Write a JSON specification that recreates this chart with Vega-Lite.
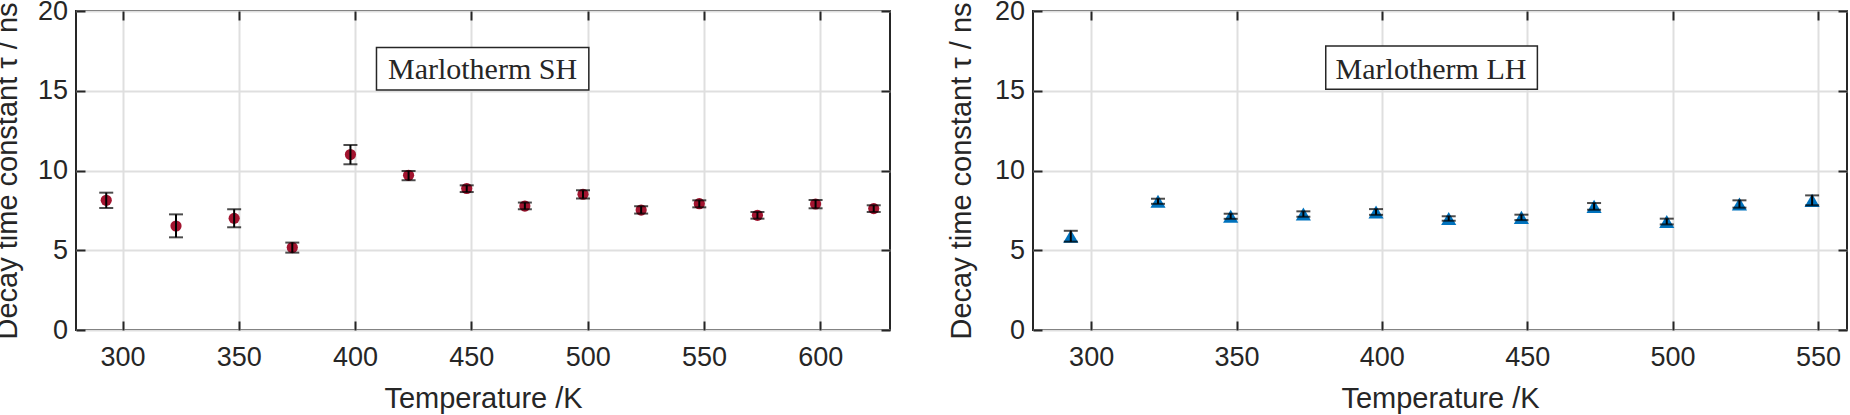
{
  "$schema": "https://vega.github.io/schema/vega-lite/v6.json",
  "padding": {"left": -8, "top": -4, "right": 0, "bottom": 0},
  "spacing": 54,
  "datasets": {
    "sh": [
      {"T": 293, "tau": 8.13, "lo": 7.65, "hi": 8.61},
      {"T": 323, "tau": 6.52, "lo": 5.81, "hi": 7.25},
      {"T": 348, "tau": 7.0, "lo": 6.44, "hi": 7.57},
      {"T": 373, "tau": 5.17, "lo": 4.85, "hi": 5.48},
      {"T": 398, "tau": 11.0, "lo": 10.39, "hi": 11.6},
      {"T": 423, "tau": 9.7, "lo": 9.39, "hi": 9.97},
      {"T": 448, "tau": 8.87, "lo": 8.65, "hi": 9.07},
      {"T": 473, "tau": 7.77, "lo": 7.57, "hi": 7.99},
      {"T": 498, "tau": 8.51, "lo": 8.24, "hi": 8.76},
      {"T": 523, "tau": 7.52, "lo": 7.3, "hi": 7.76},
      {"T": 548, "tau": 7.92, "lo": 7.69, "hi": 8.13},
      {"T": 573, "tau": 7.19, "lo": 6.98, "hi": 7.4},
      {"T": 598, "tau": 7.9, "lo": 7.63, "hi": 8.15},
      {"T": 623, "tau": 7.61, "lo": 7.4, "hi": 7.82}
    ],
    "lh": [
      {"T": 293, "tau": 5.88, "lo": 5.54, "hi": 6.22},
      {"T": 323, "tau": 8.07, "lo": 7.91, "hi": 8.23},
      {"T": 348, "tau": 7.13, "lo": 6.97, "hi": 7.29},
      {"T": 373, "tau": 7.27, "lo": 7.1, "hi": 7.44},
      {"T": 398, "tau": 7.4, "lo": 7.22, "hi": 7.58},
      {"T": 423, "tau": 6.99, "lo": 6.85, "hi": 7.13},
      {"T": 448, "tau": 7.06, "lo": 6.89, "hi": 7.23},
      {"T": 473, "tau": 7.75, "lo": 7.54, "hi": 7.96},
      {"T": 498, "tau": 6.8, "lo": 6.62, "hi": 6.98},
      {"T": 523, "tau": 7.9, "lo": 7.67, "hi": 8.13},
      {"T": 548, "tau": 8.13, "lo": 7.82, "hi": 8.44}
    ],
    "labSH": [{"label": "Marlotherm SH"}],
    "labLH": [{"label": "Marlotherm LH"}]
  },
  "config": {
    "view": {"stroke": "#262626", "strokeWidth": 2},
    "axis": {
      "labelFont": "Liberation Sans",
      "labelFontSize": 27,
      "labelColor": "#262626",
      "titleFont": "Liberation Sans",
      "titleFontSize": 29,
      "titleFontWeight": "normal",
      "titleColor": "#262626",
      "gridColor": "#dfdfdf",
      "gridWidth": 2,
      "tickColor": "#262626",
      "tickWidth": 2,
      "tickSize": -9,
      "domain": false
    }
  },
  "hconcat": [
    {
      "width": 814,
      "height": 319,
      "layer": [
        {
          "data": {"name": "sh"},
          "mark": {"type": "point", "shape": "circle", "filled": true, "size": 125, "color": "#A2142F", "opacity": 1},
          "encoding": {
            "x": {"field": "T", "type": "quantitative", "scale": {"domain": [280, 630], "nice": false, "zero": false},
              "axis": {"values": [300, 350, 400, 450, 500, 550, 600], "title": "Temperature /K", "labelPadding": 23.5, "titlePadding": 13.5}},
            "y": {"field": "tau", "type": "quantitative", "scale": {"domain": [0, 20], "nice": false},
              "axis": {"values": [0, 5, 10, 15, 20], "title": "Decay time constant τ / ns", "labelPadding": 17.5, "titlePadding": 15}}
          }
        },
        {
          "data": {"name": "sh"},
          "mark": {"type": "errorbar", "ticks": {"size": 14, "thickness": 2, "color": "#000000"}, "thickness": 2, "color": "#000000"},
          "encoding": {
            "x": {"field": "T", "type": "quantitative", "axis": {"orient": "top", "values": [300, 350, 400, 450, 500, 550, 600], "labels": false, "grid": false, "title": null}},
            "y": {"field": "lo", "type": "quantitative", "axis": {"orient": "right", "values": [0, 5, 10, 15, 20], "labels": false, "grid": false, "title": null}},
            "y2": {"field": "hi"}
          }
        },
        {
          "data": {"name": "labSH"},
          "mark": {"type": "rect", "fill": "#ffffff", "stroke": "#262626", "strokeWidth": 1.5},
          "encoding": {"x": {"datum": 409.2, "axis": null}, "x2": {"datum": 500.5}, "y": {"datum": 17.71, "axis": null}, "y2": {"datum": 15.05}}
        },
        {
          "data": {"name": "labSH"},
          "mark": {"type": "text", "font": "Liberation Serif", "fontSize": 30, "color": "#262626", "align": "center", "baseline": "alphabetic"},
          "encoding": {"text": {"field": "label"}, "x": {"datum": 454.8, "axis": null}, "y": {"datum": 15.72, "axis": null}}
        }
      ],
      "resolve": {"axis": {"x": "independent", "y": "independent"}}
    },
    {
      "width": 814,
      "height": 319,
      "layer": [
        {
          "data": {"name": "lh"},
          "mark": {"type": "point", "shape": "triangle-up", "filled": true, "size": 230, "color": "#0072BD", "opacity": 1},
          "encoding": {
            "x": {"field": "T", "type": "quantitative", "scale": {"domain": [280, 560], "nice": false, "zero": false},
              "axis": {"values": [300, 350, 400, 450, 500, 550], "title": "Temperature /K", "labelPadding": 23.5, "titlePadding": 13.5}},
            "y": {"field": "tau", "type": "quantitative", "scale": {"domain": [0, 20], "nice": false},
              "axis": {"values": [0, 5, 10, 15, 20], "title": "Decay time constant τ / ns", "labelPadding": 17.5, "titlePadding": 18}}
          }
        },
        {
          "data": {"name": "lh"},
          "mark": {"type": "errorbar", "ticks": {"size": 14, "thickness": 2, "color": "#000000"}, "thickness": 2, "color": "#000000"},
          "encoding": {
            "x": {"field": "T", "type": "quantitative", "axis": {"orient": "top", "values": [300, 350, 400, 450, 500, 550], "labels": false, "grid": false, "title": null}},
            "y": {"field": "lo", "type": "quantitative", "axis": {"orient": "right", "values": [0, 5, 10, 15, 20], "labels": false, "grid": false, "title": null}},
            "y2": {"field": "hi"}
          }
        },
        {
          "data": {"name": "labLH"},
          "mark": {"type": "rect", "fill": "#ffffff", "stroke": "#262626", "strokeWidth": 1.5},
          "encoding": {"x": {"datum": 380.7, "axis": null}, "x2": {"datum": 453.5}, "y": {"datum": 17.81, "axis": null}, "y2": {"datum": 15.09}}
        },
        {
          "data": {"name": "labLH"},
          "mark": {"type": "text", "font": "Liberation Serif", "fontSize": 30, "color": "#262626", "align": "center", "baseline": "alphabetic"},
          "encoding": {"text": {"field": "label"}, "x": {"datum": 416.9, "axis": null}, "y": {"datum": 15.74, "axis": null}}
        }
      ],
      "resolve": {"axis": {"x": "independent", "y": "independent"}}
    }
  ]
}
